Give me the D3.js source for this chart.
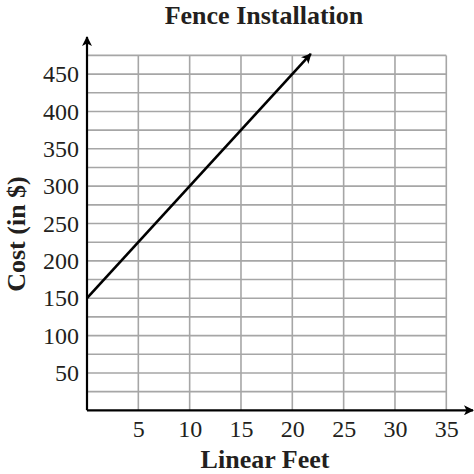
<!DOCTYPE html>
<html>
<head>
<meta charset="utf-8">
<script src="https://cdn.jsdelivr.net/npm/d3@7"></script>
<style>
  body { margin: 0; background: #fff; }
</style>
</head>
<body>
<div id="chart"></div>
<script>
var xTicks = [5, 10, 15, 20, 25, 30, 35];
var yTicks = [50, 100, 150, 200, 250, 300, 350, 400, 450];
var xGrid = [5, 10, 15, 20, 25, 30, 35];
var yGrid = [25, 50, 75, 100, 125, 150, 175, 200, 225, 250, 275, 300, 325, 350, 375, 400, 425, 450, 475];
var costLine = [[0, 150], [21.8, 477]];

createchart();

function createchart() {
  var width = 474;
  var height = 474;
  var serif = "'Liberation Serif', 'Times New Roman', serif";

  var svg = d3.select("#chart").append("svg")
    .attr("width", width)
    .attr("height", height);

  var x = d3.scaleLinear().domain([0, 35]).range([87, 446.3]);
  var y = d3.scaleLinear().domain([0, 475]).range([410.3, 55.4]);

  var defs = svg.append("defs");
  defs.append("marker")
    .attr("id", "head")
    .attr("viewBox", "0 0 10 10")
    .attr("refX", 9)
    .attr("refY", 5)
    .attr("markerWidth", 10)
    .attr("markerHeight", 10)
    .attr("markerUnits", "userSpaceOnUse")
    .attr("orient", "auto")
    .append("path")
    .attr("d", "M0,0 L10,5 L0,10 L2.5,5 Z")
    .attr("fill", "#000");

  // grid
  svg.append("g").selectAll("line.v")
    .data(xGrid)
    .join("line")
    .attr("x1", d => x(d)).attr("x2", d => x(d))
    .attr("y1", y(0)).attr("y2", y(475))
    .attr("stroke", "#a6a6a6")
    .attr("stroke-width", 1.6);

  svg.append("g").selectAll("line.h")
    .data(yGrid)
    .join("line")
    .attr("x1", x(0)).attr("x2", x(35))
    .attr("y1", d => y(d)).attr("y2", d => y(d))
    .attr("stroke", "#a6a6a6")
    .attr("stroke-width", 1.6);

  // axes lines with arrows
  svg.append("line")
    .attr("x1", x(0)).attr("x2", 473)
    .attr("y1", y(0)).attr("y2", y(0))
    .attr("stroke", "#000").attr("stroke-width", 2.2)
    .attr("marker-end", "url(#head)");

  svg.append("line")
    .attr("x1", x(0)).attr("x2", x(0))
    .attr("y1", y(0)).attr("y2", 37)
    .attr("stroke", "#000").attr("stroke-width", 2.2)
    .attr("marker-end", "url(#head)");

  // tick labels
  var xAxis = svg.append("g")
    .attr("transform", "translate(0," + y(0) + ")")
    .call(d3.axisBottom(x).tickValues(xTicks).tickSize(0).tickPadding(10));
  xAxis.select(".domain").remove();
  xAxis.selectAll("text")
    .attr("font-family", serif)
    .attr("font-size", 24)
    .attr("fill", "#231f20");

  var yAxis = svg.append("g")
    .attr("transform", "translate(" + x(0) + ",0)")
    .call(d3.axisLeft(y).tickValues(yTicks).tickSize(0).tickPadding(8));
  yAxis.select(".domain").remove();
  yAxis.selectAll("text")
    .attr("font-family", serif)
    .attr("font-size", 24)
    .attr("fill", "#231f20");

  // data line
  svg.append("path")
    .datum(costLine)
    .attr("d", d3.line().x(d => x(d[0])).y(d => y(d[1])))
    .attr("fill", "none")
    .attr("stroke", "#000")
    .attr("stroke-width", 2.6)
    .attr("marker-end", "url(#head)");

  // titles
  svg.append("text")
    .attr("x", 264)
    .attr("y", 23.5)
    .attr("text-anchor", "middle")
    .attr("font-family", serif)
    .attr("font-weight", "bold")
    .attr("font-size", 26)
    .attr("fill", "#231f20")
    .text("Fence Installation");

  svg.append("text")
    .attr("x", 265)
    .attr("y", 468)
    .attr("text-anchor", "middle")
    .attr("font-family", serif)
    .attr("font-weight", "bold")
    .attr("font-size", 26)
    .attr("fill", "#231f20")
    .text("Linear Feet");

  svg.append("text")
    .attr("transform", "translate(24.5,234) rotate(-90)")
    .attr("text-anchor", "middle")
    .attr("font-family", serif)
    .attr("font-weight", "bold")
    .attr("font-size", 26)
    .attr("fill", "#231f20")
    .text("Cost (in $)");
}
</script>
</body>
</html>
